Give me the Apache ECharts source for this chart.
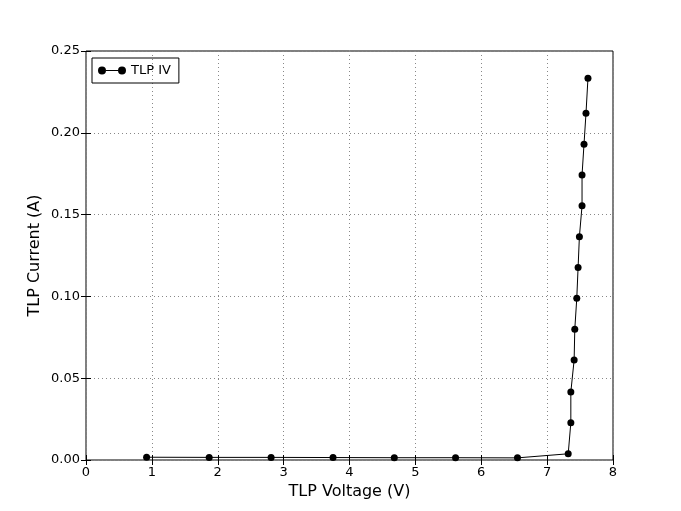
<!DOCTYPE html>
<html>
<head>
<meta charset="utf-8">
<script src="https://cdn.jsdelivr.net/npm/echarts@6/dist/echarts.min.js"></script>
<style>
html, body { margin: 0; padding: 0; background: #fff; }
#chart { width: 681px; height: 511px; }
</style>
</head>
<body>
<div id="chart"></div>
<script>
// TLP IV data
var voltage = [0.92, 1.87, 2.81, 3.75, 4.68, 5.61, 6.55, 7.32, 7.36, 7.36, 7.41, 7.42, 7.45, 7.47, 7.49, 7.53, 7.53, 7.56, 7.59, 7.62];
var current = [0.0017, 0.0016, 0.0016, 0.0015, 0.0014, 0.0014, 0.0013, 0.0038, 0.0228, 0.0416, 0.0611, 0.0799, 0.0988, 0.1176, 0.1365, 0.1554, 0.1742, 0.1930, 0.2119, 0.2333];
var seriesName = 'TLP IV';

var chart = echarts.init(document.getElementById('chart'), null, { renderer: 'canvas' });
var font = 'DejaVu Sans';

var points = [];
for (var i = 0; i < voltage.length; i++) {
    points.push([voltage[i], current[i]]);
}

// legend marker like matplotlib: dot - line - dot
var legendIcon = 'path://M0,4a4,4 0 1,1 8,0a4,4 0 1,1 -8,0z M20,4a4,4 0 1,1 8,0a4,4 0 1,1 -8,0z M8,3.5h12v1h-12z';

var option = {
    backgroundColor: '#fff',
    textStyle: { fontFamily: font },
    animation: false,
    grid: {
        left: 86, right: 68, top: 51, bottom: 51,
        show: true, borderColor: '#000', borderWidth: 1
    },
    legend: {
        left: 92, top: 58,
        data: [{ name: seriesName, icon: legendIcon }],
        orient: 'vertical',
        padding: [6, 8, 6, 6],
        borderColor: '#000', borderWidth: 1, borderRadius: 0,
        itemWidth: 28, itemHeight: 8,
        textStyle: { fontFamily: font, fontSize: 13, color: '#000' }
    },
    xAxis: [{
        type: 'value', min: 0, max: 8, interval: 1,
        name: 'TLP Voltage (V)', nameLocation: 'middle', nameGap: 24,
        nameMoveOverlap: false,
        nameTextStyle: { fontFamily: font, fontSize: 16, color: '#000' },
        axisLine: { show: false },
        axisTick: { inside: true, length: 5, lineStyle: { color: '#000' } },
        axisLabel: { fontFamily: font, fontSize: 13, color: '#000', margin: 6 },
        splitLine: { show: true, lineStyle: { color: '#888', type: [1, 3] } }
    }, {
        type: 'value', min: 0, max: 8, interval: 1, position: 'top',
        axisLine: { show: false },
        axisTick: { inside: true, length: 5, lineStyle: { color: '#000' } },
        axisLabel: { show: false },
        splitLine: { show: false }
    }],
    yAxis: [{
        type: 'value', min: 0, max: 0.25, interval: 0.05,
        name: 'TLP Current (A)', nameLocation: 'middle', nameGap: 43,
        nameMoveOverlap: false,
        nameTextStyle: { fontFamily: font, fontSize: 16, color: '#000' },
        axisLine: { show: false },
        axisTick: { inside: true, length: 5, lineStyle: { color: '#000' } },
        axisLabel: {
            fontFamily: font, fontSize: 13, color: '#000', margin: 6,
            formatter: function (v) { return v.toFixed(2); }
        },
        splitLine: { show: true, lineStyle: { color: '#888', type: [1, 3] } }
    }, {
        type: 'value', min: 0, max: 0.25, interval: 0.05, position: 'right',
        axisLine: { show: false },
        axisTick: { inside: true, length: 5, lineStyle: { color: '#000' } },
        axisLabel: { show: false },
        splitLine: { show: false }
    }],
    series: [{
        name: seriesName,
        type: 'line',
        data: points,
        symbol: 'circle',
        symbolSize: 7,
        itemStyle: { color: '#000' },
        lineStyle: { color: '#000', width: 1 }
    }]
};

chart.setOption(option);
</script>
</body>
</html>
